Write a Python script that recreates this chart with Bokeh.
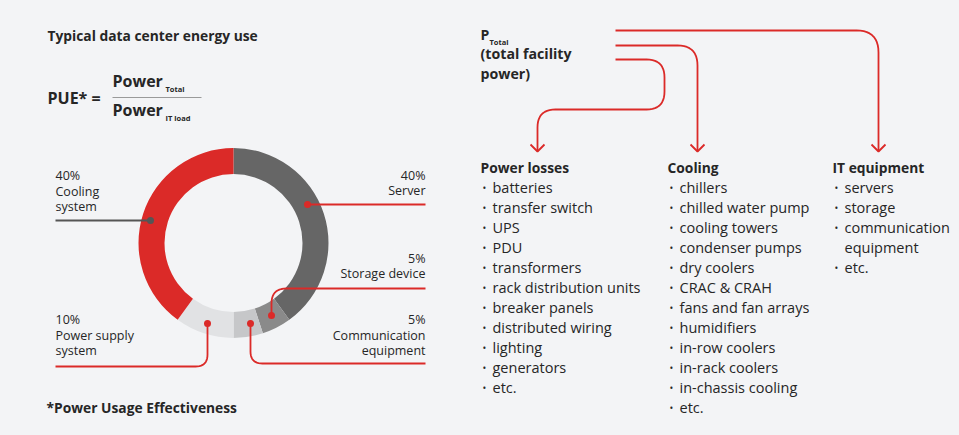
import numpy as np
from bokeh.plotting import figure
from bokeh.models import Range1d
from bokeh.core.properties import value
from bokeh.embed import file_html
from bokeh.resources import INLINE

# ---------------- data ----------------
segments = ["Server", "Storage device", "Communication equipment", "Power supply system", "Cooling system"]
shares = [40, 5, 5, 10, 40]
seg_colors = ["#666666", "#8a8a8a", "#c6c7c9", "#e1e2e4", "#db2a28"]

power_losses = ["batteries", "transfer switch", "UPS", "PDU", "transformers",
                "rack distribution units", "breaker panels", "distributed wiring",
                "lighting", "generators", "etc."]
cooling = ["chillers", "chilled water pump", "cooling towers", "condenser pumps",
           "dry coolers", "CRAC & CRAH", "fans and fan arrays", "humidifiers",
           "in-row coolers", "in-rack coolers", "in-chassis cooling", "etc."]
it_equipment = ["servers", "storage", "communication", "equipment", "etc."]
it_bullets = [True, True, True, False, True]

# ---------------- style ----------------
BG = "#f3f4f6"
RED = "#db2a28"
TXT = "#262626"
FONT = value("Open Sans")
H = 435


def Y(v):
    return H - v


p = figure(width=955, height=419, x_range=Range1d(0, 955), y_range=Range1d(16, 435),
           output_backend="svg", toolbar_location=None, min_border=0,
           x_axis_type=None, y_axis_type=None)
p.grid.visible = False
p.outline_line_color = None
p.background_fill_color = BG
p.border_fill_color = BG


def txt(x, y, s, size, bold=False, align="left", color=TXT):
    p.text(x=[x], y=[Y(y)], text=[s], text_font=FONT, text_font_size=f"{size}px",
           text_font_style="bold" if bold else "normal", text_align=align,
           text_baseline="middle", text_color=color)


def rounded(points, r, n=12):
    pts = [np.array(pt, dtype=float) for pt in points]
    xs, ys = [pts[0][0]], [pts[0][1]]
    for i in range(1, len(pts) - 1):
        a, c, b = pts[i - 1], pts[i], pts[i + 1]
        ua = (a - c) / np.linalg.norm(a - c)
        ub = (b - c) / np.linalg.norm(b - c)
        p1, p2 = c + r * ua, c + r * ub
        for t in np.linspace(0, 1, n):
            q = (1 - t) ** 2 * p1 + 2 * (1 - t) * t * c + t ** 2 * p2
            xs.append(q[0]); ys.append(q[1])
    xs.append(pts[-1][0]); ys.append(pts[-1][1])
    return xs, [Y(v) for v in ys]


def path(points, r, color=RED, w=1.8):
    xs, ys = rounded(points, r)
    p.line(xs, ys, line_color=color, line_width=w)


def arrowhead(x, y):
    p.line([x - 7, x, x + 7], [Y(y - 7), Y(y), Y(y - 7)], line_color=RED, line_width=1.8)


# ---------------- donut ----------------
cx, cy = 233, 242.5
fr = np.array(shares, dtype=float) / sum(shares)
cum = np.concatenate([[0], np.cumsum(fr)])
starts = np.pi / 2 - 2 * np.pi * cum[:-1]
ends = np.pi / 2 - 2 * np.pi * cum[1:]
p.annular_wedge(x=[cx] * len(shares), y=[Y(cy)] * len(shares), inner_radius=69, outer_radius=95,
                inner_radius_units="screen", outer_radius_units="screen",
                start_angle=starts, end_angle=ends, direction="clock",
                fill_color=seg_colors, line_color=None)

# connectors
p.line([55, 150], [Y(220), Y(220)], line_color="#555555", line_width=1.8)
p.scatter([150], [Y(220)], size=7, fill_color="#555555", line_color=None)
path([(307, 204), (425, 204)], 0)
path([(271, 315), (271, 288), (425, 288)], 15)
path([(250, 323), (250, 363), (425, 363)], 12)
path([(207, 323), (207, 366), (55, 366)], 12)
p.scatter([307, 271, 250, 207], [Y(204), Y(315), Y(323), Y(323)], size=7,
          fill_color=RED, line_color=None)

# donut labels
LS = 12.5
txt(55, 175, f"{shares[4]}%", LS); txt(55, 191, "Cooling", LS); txt(55, 206, "system", LS)
txt(425, 175, f"{shares[0]}%", LS, align="right"); txt(425, 190, "Server", LS, align="right")
txt(425, 258, f"{shares[1]}%", LS, align="right"); txt(425, 273, "Storage device", LS, align="right")
txt(55, 319, f"{shares[3]}%", LS); txt(55, 335, "Power supply", LS); txt(55, 350, "system", LS)
txt(425, 319, f"{shares[2]}%", LS, align="right"); txt(425, 335, "Communication", LS, align="right")
txt(425, 350, "equipment", LS, align="right")

# titles and formula
txt(47, 35, "Typical data center energy use", 13.8, bold=True)
txt(47, 97, "PUE* =", 16, bold=True)
txt(112, 80, "Power", 16, bold=True)
txt(165, 88, "Total", 7.5, bold=True)
p.line([112, 201], [Y(97), Y(97)], line_color="#9a9a9a", line_width=1)
txt(112, 109, "Power", 16, bold=True)
txt(165, 117, "IT load", 7.5, bold=True)
txt(46, 407, "*Power Usage Effectiveness", 13.8, bold=True)

# right side header
txt(480, 34, "P", 14, bold=True)
txt(489, 41, "Total", 7.5, bold=True)
txt(480, 53, "(total facility", 14.2, bold=True)
txt(480, 73, "power)", 14.2, bold=True)

# arrows
path([(615, 30), (878, 30), (878, 151)], 22)
arrowhead(878, 151)
path([(615, 45), (697, 45), (697, 151)], 20)
arrowhead(697, 151)
path([(615, 59), (664, 59), (664, 109), (537, 109), (537, 151)], 18)
arrowhead(537, 151)

# lists
cols = [(480, "Power losses", power_losses, [True] * len(power_losses)),
        (667, "Cooling", cooling, [True] * len(cooling)),
        (832, "IT equipment", it_equipment, it_bullets)]
for x0, head, items, bul in cols:
    txt(x0, 167, head, 13.8, bold=True)
    for i, (it, b) in enumerate(zip(items, bul)):
        yy = 187 + 20 * i
        if b:
            txt(x0 + 2, yy, "•", 10)
        txt(x0 + 12, yy, it, 14.5)

html = file_html(p, INLINE)
html = html.replace("<head>", "<head><style>body{background:#f3f4f6;}</style>", 1)
open("out.html", "w").write(html)
